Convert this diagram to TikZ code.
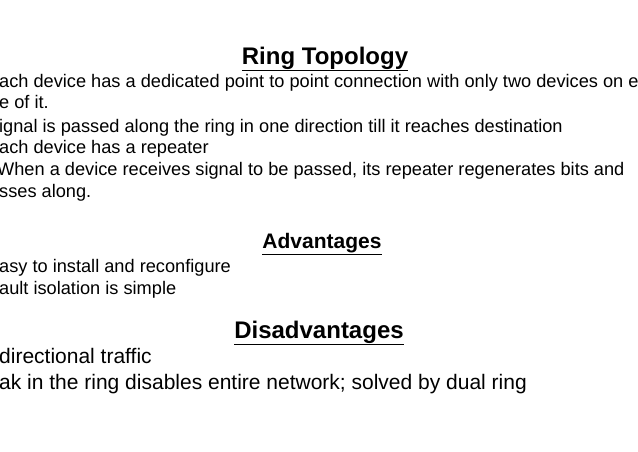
\documentclass[tikz,border=0pt]{standalone}
\usepackage{fontspec}
\setmainfont{Liberation Sans}
\begin{document}
\begin{tikzpicture}[x=1pt,y=1pt,
  body/.style={anchor=base west,inner sep=0pt,font=\fontsize{18.2}{21}\selectfont},
  big/.style={anchor=base west,inner sep=0pt,font=\fontsize{21}{25}\selectfont},
  head/.style={anchor=base,inner sep=0pt}]
\useasboundingbox (0,0) rectangle (638,-451);
\fill[white] (0,0) rectangle (638,-451);
\clip (0,0) rectangle (638,-451);
\node[head,font=\fontsize{24}{28}\selectfont\bfseries] (t) at (325,-64) {\underline{Ring Topology}};
\node[body] (l1) at (-1,-87) {ach device has a dedicated point to point connection with only two devices on e};
\node[body] (l2) at (-1,-108) {e of it.};
\node[body] (l3) at (-1,-132) {ignal is passed along the ring in one direction till it reaches destination};
\node[body] (l4) at (-1,-153) {ach device has a repeater};
\node[body] (l5) at (-3,-175) {When a device receives signal to be passed, its repeater regenerates bits and};
\node[body] (l6) at (-1,-197) {sses along.};
\node[head,font=\fontsize{21}{24}\selectfont\bfseries] (a) at (322,-248) {\underline{Advantages}};
\node[body] (a1) at (-1,-272) {asy to install and reconfigure};
\node[body] (a2) at (-1,-294) {ault isolation is simple};
\node[head,font=\fontsize{24}{28}\selectfont\bfseries] (d) at (319,-338) {\underline{Disadvantages}};
\node[big] (d1) at (-1,-363) {directional traffic};
\node[big] (d2) at (-1,-389) {ak in the ring disables entire network; solved by dual ring};
\end{tikzpicture}
\end{document}
